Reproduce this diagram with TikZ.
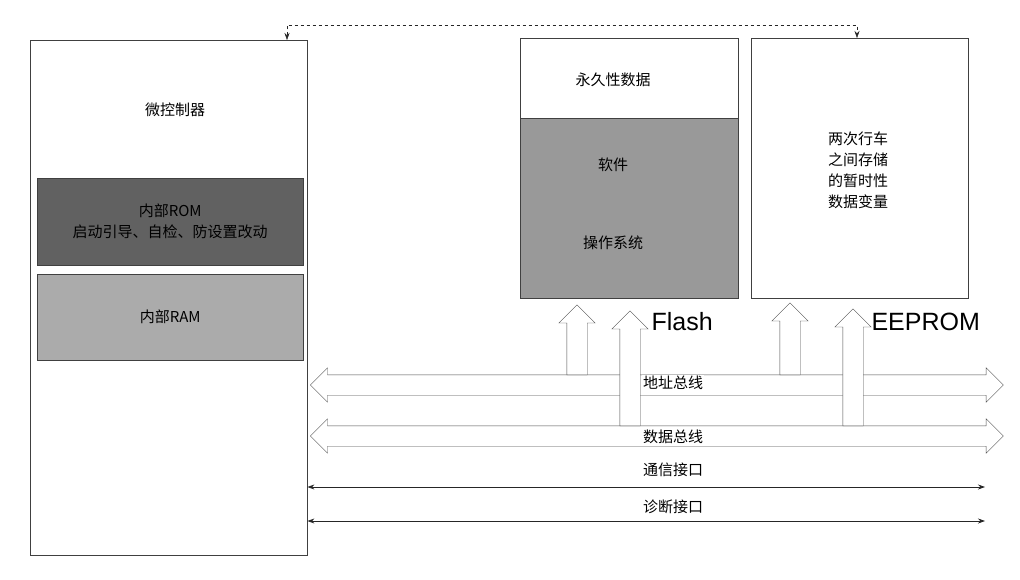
\documentclass[tikz,border=0pt]{standalone}
\usepackage{fontspec}
\setmainfont{Liberation Sans}
\newfontfamily\cjk{Noto Sans CJK SC}
\usepackage{tikz}
\usetikzlibrary{arrows.meta, positioning, shapes.arrows, calc}

\begin{document}
\begin{tikzpicture}[
        x=1pt, y=-1pt,
        >={Stealth[length=7pt,width=5pt]},
        block/.style={draw=black!75, fill=#1, anchor=north west, inner sep=0pt},
        label/.style={font=\cjk\fontsize{15}{21}\selectfont, align=center},
        bus/.style={double arrow, draw=black!70, fill=white, inner sep=10pt,
            minimum width=34pt, double arrow head extend=7pt, anchor=west},
        tap/.style={single arrow, draw=black!70, fill=white, inner sep=10pt,
            minimum width=36pt, single arrow head extend=8pt, shape border rotate=90, anchor=tail},
        link/.style={<->, black!85, thick},
        chip/.style={font=\fontsize{25}{28}\selectfont, anchor=west},
    ]
    \useasboundingbox (0,0) rectangle (1020,580);

    % ── Microcontroller ──
    \node[block=white, minimum width=277pt, minimum height=515pt] (mcu) at (30,40) {};
    \node[label] (mcutext) at (175,110) {微控制器};
    \node[block=black!62, minimum width=266pt, minimum height=87pt] (rom) at (37,178) {};
    \node[label] at (rom.center) {内部ROM\\启动引导、自检、防设置改动};
    \node[block=black!33, minimum width=266pt, minimum height=86pt] (ram) at (37,274) {};
    \node[label] at (ram.center) {内部RAM};

    % ── Flash ──
    \node[block=white, minimum width=218pt, minimum height=260pt] (flash) at (520,38) {};
    \node[block=black!40, minimum width=218pt, minimum height=180pt] (flashsw) at (520,118) {};
    \node[label] at (613,80) {永久性数据};
    \node[label] at (613,165) {软件};
    \node[label] at (613,243) {操作系统};

    % ── EEPROM ──
    \node[block=white, minimum width=217pt, minimum height=260pt] (eeprom) at (751,38) {};
    \node[label] at (858,170) {两次行车\\之间存储\\的暂时性\\数据变量};

    % ── Dashed link ──
    \coordinate (d1) at (287,25);
    \coordinate (d2) at (857,25);
    \draw[dashed, black!85, <->] ($(mcu.north west)+(257,0)$) -- (d1) -- (d2) -- (eeprom.north west -| d2);

    % ── Buses ──
    \node[bus, minimum height=693pt] (abus) at (310,385) {};
    \node[bus, minimum height=693pt] (dbus) at (310,436) {};
    \node[label, fill=white, inner sep=1pt] at (673,383) {地址总线};

    % ── Taps ──
    \node[tap, minimum height=70pt] (fa) at (577,375) {};
    \node[tap, minimum height=115pt] (fd) at (630,426) {};
    \node[tap, minimum height=72pt] (ea) at (790,375) {};
    \node[tap, minimum height=117pt] (ed) at (853,426) {};
    \node[label] at (673,437) {数据总线};
    \node[chip] at (648,322) {Flash};
    \node[chip] at (868,322) {EEPROM};

    % ── Interfaces ──
    \coordinate (c1) at (985,487);
    \coordinate (c2) at (985,521);
    \draw[link] (mcu.east |- c1) -- (c1);
    \draw[link] (mcu.east |- c2) -- (c2);
    \node[label] at (673,470) {通信接口};
    \node[label] at (673,507) {诊断接口};

    \end{tikzpicture}
\end{document}
